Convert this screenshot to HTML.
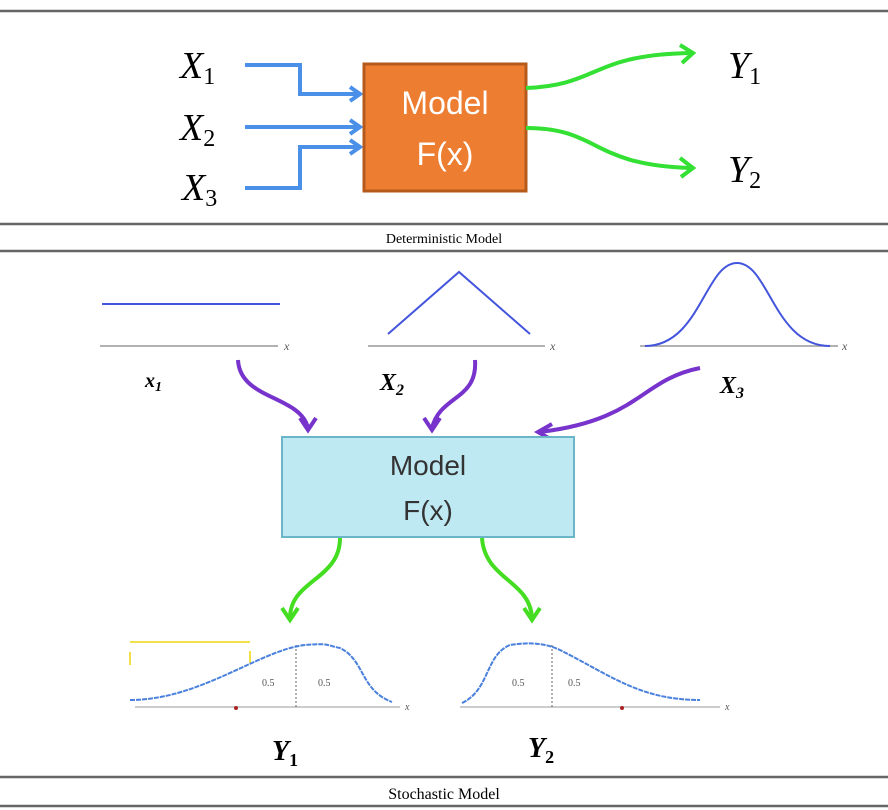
<!DOCTYPE html>
<html><head><style>body{margin:0;background:#fff}svg{display:block}</style></head><body>
<svg width="888" height="810" viewBox="0 0 888 810" xmlns="http://www.w3.org/2000/svg" font-family="Liberation Serif, serif">
<g stroke="#666" stroke-width="2.5">
<line x1="0" y1="11" x2="888" y2="11"/><line x1="0" y1="224" x2="888" y2="224"/>
<line x1="0" y1="251" x2="888" y2="251"/><line x1="0" y1="777" x2="888" y2="777"/>
<line x1="0" y1="806" x2="888" y2="806"/></g>
<text x="444" y="243" font-size="14" text-anchor="middle">Deterministic Model</text>
<text x="444" y="799" font-size="16" text-anchor="middle">Stochastic Model</text>
<!-- top -->
<g font-style="italic" font-size="38" font-family="Liberation Serif, serif">
<text x="180" y="78">X<tspan font-size="24" dy="6" font-style="normal">1</tspan></text>
<text x="180" y="140">X<tspan font-size="24" dy="6" font-style="normal">2</tspan></text>
<text x="182" y="200">X<tspan font-size="24" dy="6" font-style="normal">3</tspan></text>
<text x="728" y="78">Y<tspan font-size="24" dy="6" font-style="normal">1</tspan></text>
<text x="728" y="182">Y<tspan font-size="24" dy="6" font-style="normal">2</tspan></text>
</g>
<g stroke="#4a90e8" stroke-width="4" fill="none">
<polyline points="245,65 300,65 300,94 360,94"/>
<polyline points="245,127 360,127"/>
<polyline points="245,188 300,188 300,147 360,147"/>
<path d="M350,87 L360,94 L350,101 M350,120 L360,127 L350,134 M350,140 L360,147 L350,154"/>
</g>
<rect x="364" y="64" width="162" height="127" fill="#ed7d31" stroke="#b65a1c" stroke-width="3"/>
<text x="445" y="114" font-family="Liberation Sans, sans-serif" font-size="32" fill="#fff" text-anchor="middle">Model</text>
<text x="445" y="165" font-family="Liberation Sans, sans-serif" font-size="32" fill="#fff" text-anchor="middle">F(x)</text>
<g stroke="#33e033" stroke-width="4" fill="none">
<path d="M526,88 C600,85 590,55 690,53"/><path d="M680,45 L693,53 L682,63"/>
<path d="M526,128 C600,128 590,165 690,168"/><path d="M680,158 L693,168 L681,177"/>
</g>
<!-- stochastic inputs -->
<g stroke="#999" stroke-width="1.5"><line x1="100" y1="346" x2="278" y2="346"/><line x1="368" y1="346" x2="545" y2="346"/><line x1="640" y1="346" x2="838" y2="346"/></g>
<g font-size="12" font-style="italic" fill="#555"><text x="284" y="350">x</text><text x="550" y="350">x</text><text x="842" y="350">x</text></g>
<g stroke="#4455dd" stroke-width="2" fill="none">
<line x1="102" y1="304" x2="280" y2="304"/>
<polyline points="388,334 459,272 530,334"/>
<path d="M645,346 C700,346 705,263 737,263 C769,263 774,346 830,346"/>
</g>
<g font-style="italic" font-weight="bold" font-size="24" font-family="Liberation Serif, serif">
<text x="145" y="387" font-size="20">x<tspan font-size="14" dy="4">1</tspan></text>
<text x="380" y="390">X<tspan font-size="16" dy="5">2</tspan></text>
<text x="720" y="393">X<tspan font-size="16" dy="5">3</tspan></text>
</g>
<g stroke="#7733cc" stroke-width="4" fill="none">
<path d="M238,360 C240,400 300,395 308,428"/><path d="M300,418 L308,430 L316,418"/>
<path d="M475,360 C478,400 440,395 432,428"/><path d="M424,418 L432,430 L440,418"/>
<path d="M700,368 C640,380 640,420 540,432"/><path d="M552,424 L538,432 L552,440"/>
</g>
<rect x="282" y="437" width="292" height="100" fill="#bfe9f2" stroke="#6bb5c8" stroke-width="2"/>
<text x="428" y="475" font-family="Liberation Sans, sans-serif" font-size="28" fill="#333" text-anchor="middle">Model</text>
<text x="428" y="520" font-family="Liberation Sans, sans-serif" font-size="28" fill="#333" text-anchor="middle">F(x)</text>
<g stroke="#44dd22" stroke-width="4" fill="none">
<path d="M340,538 C340,580 290,580 290,618"/><path d="M282,608 L290,620 L298,608"/>
<path d="M482,538 C485,580 530,580 532,618"/><path d="M524,608 L532,620 L540,608"/>
</g>
<!-- outputs -->
<g stroke="#bbb" stroke-width="1.5"><line x1="135" y1="707" x2="400" y2="707"/><line x1="460" y1="707" x2="720" y2="707"/></g>
<g stroke="#f2e04a" stroke-width="2" fill="none"><line x1="130" y1="642" x2="250" y2="642"/><line x1="130" y1="652" x2="130" y2="665"/><line x1="250" y1="651" x2="250" y2="663"/></g>
<g stroke="#666" stroke-dasharray="2,2"><line x1="296" y1="645" x2="296" y2="707"/><line x1="552" y1="645" x2="552" y2="707"/></g>
<g stroke="#4a80dd" stroke-width="2" fill="none" stroke-dasharray="5,1">
<path d="M130,700 C200,700 260,650 305,645 C330,643 325,645 340,648 C365,660 360,690 392,702"/>
<path d="M462,703 C490,690 485,655 510,645 C530,642 545,643 560,650 C610,675 640,700 700,700"/>
</g>
<g fill="#aa2222"><circle cx="236" cy="708" r="2"/><circle cx="622" cy="708" r="2"/></g>
<g font-size="10" fill="#555"><text x="262" y="686">0.5</text><text x="318" y="686">0.5</text><text x="512" y="686">0.5</text><text x="568" y="686">0.5</text>
<text x="405" y="710" font-style="italic">x</text><text x="725" y="710" font-style="italic">x</text></g>
<g font-style="italic" font-weight="bold" font-size="28" font-family="Liberation Serif, serif">
<text x="272" y="760">Y<tspan font-size="18" dy="6" font-style="normal">1</tspan></text>
<text x="528" y="757">Y<tspan font-size="18" dy="6" font-style="normal">2</tspan></text>
</g>
</svg>
</body></html>
